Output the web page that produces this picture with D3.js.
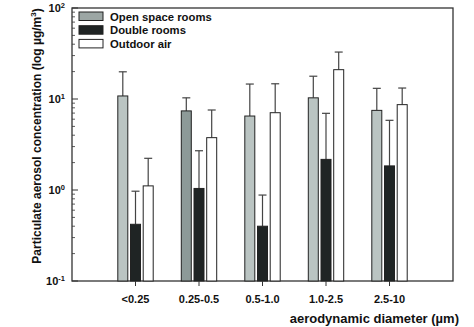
<!DOCTYPE html>
<html><head><meta charset="utf-8">
<script src="https://cdn.jsdelivr.net/npm/d3@7"></script>
<style>body{margin:0;background:#fff}svg{display:block}text{font-family:Arial,"Liberation Sans",sans-serif;font-weight:bold;fill:#111}</style>
</head><body>
<svg id="c" width="474" height="327"></svg>
<script>
const categories = ["<0.25","0.25-0.5","0.5-1.0","1.0-2.5","2.5-10"];
const seriesNames = ["Open space rooms","Double rooms","Outdoor air"];
const openSpace = [10.8, 7.4, 6.5, 10.3, 7.5];
const openSpaceErr = [19.9, 10.3, 14.6, 17.8, 13.1];
const doubleRooms = [0.42, 1.04, 0.40, 2.17, 1.84];
const doubleRoomsErr = [0.97, 2.7, 0.88, 6.96, 5.83];
const outdoor = [1.11, 3.76, 7.07, 21.0, 8.67];
const outdoorErr = [2.23, 7.57, 14.7, 32.8, 13.2];
const yTickExps = [-1, 0, 1, 2];

const svg = d3.select("#c");
const L = 72, R = 453, T = 8, B = 281;
const x = d3.scaleLinear().domain([0, 6]).range([L, R]);
const y = d3.scaleLog().domain([0.1, 100]).range([B, T]);
const colors = ["#bac4c2", "#1f2424", "#ffffff"];
const series = [
  {vals: openSpace, err: openSpaceErr},
  {vals: doubleRooms, err: doubleRoomsErr},
  {vals: outdoor, err: outdoorErr}
];
const bw = 10, step = 12.7;

// frame
svg.append("rect").attr("x", L).attr("y", T).attr("width", R - L).attr("height", B - T)
  .attr("fill", "none").attr("stroke", "#333").attr("stroke-width", 1.3);

// y minor/major ticks (inside)
const minor = [];
for (let e = -1; e < 2; e++) for (let k = 2; k <= 9; k++) minor.push(k * Math.pow(10, e));
svg.selectAll(".mt").data(minor).enter().append("line")
  .attr("x1", L).attr("x2", L + 3).attr("y1", d => y(d)).attr("y2", d => y(d))
  .attr("stroke", "#333").attr("stroke-width", 0.8);
svg.selectAll(".Mt").data(yTickExps).enter().append("line")
  .attr("x1", L).attr("x2", L + 6).attr("y1", d => y(Math.pow(10, d))).attr("y2", d => y(Math.pow(10, d)))
  .attr("stroke", "#333").attr("stroke-width", 1);
const yl = svg.selectAll(".yl").data(yTickExps).enter().append("text")
  .attr("x", L - 7).attr("y", d => y(Math.pow(10, d)) + 4).attr("text-anchor", "end")
  .attr("font-size", 11);
yl.append("tspan").text("10");
yl.append("tspan").attr("dy", -4).attr("font-size", 7.5).text(d => d);

// bars
series.forEach((s, si) => {
  categories.forEach((c, i) => {
    const cx = x(i + 1) + (si - 1) * step;
    const fill = (si === 0 && i === 1) ? "#8d9a98" : colors[si];
    svg.append("line").attr("x1", cx).attr("x2", cx).attr("y1", y(s.vals[i])).attr("y2", y(s.err[i]))
      .attr("stroke", "#444").attr("stroke-width", 1.2);
    svg.append("line").attr("x1", cx - 4).attr("x2", cx + 4).attr("y1", y(s.err[i])).attr("y2", y(s.err[i]))
      .attr("stroke", "#444").attr("stroke-width", 1.2);
    svg.append("rect").attr("x", cx - bw / 2).attr("y", y(s.vals[i]))
      .attr("width", bw).attr("height", B - y(s.vals[i]))
      .attr("fill", fill).attr("stroke", "#222").attr("stroke-width", 1);
  });
});

// x ticks and labels
categories.forEach((c, i) => {
  svg.append("line").attr("x1", x(i + 1)).attr("x2", x(i + 1)).attr("y1", B).attr("y2", B + 5)
    .attr("stroke", "#333").attr("stroke-width", 1);
  svg.append("text").attr("x", x(i + 1)).attr("y", 303).attr("text-anchor", "middle")
    .attr("font-size", 11).text(c);
});

// axis titles
svg.append("text").attr("x", 459).attr("y", 323).attr("text-anchor", "end").attr("font-size", 13)
  .text("aerodynamic diameter (µm)");
const yt = svg.append("text").attr("transform", "translate(41,136) rotate(-90)")
  .attr("text-anchor", "middle").attr("font-size", 12);
yt.append("tspan").text("Particulate aerosol concentration (log µg/m");
yt.append("tspan").attr("dy", -5).attr("font-size", 8).text("3");
yt.append("tspan").attr("dy", 5).text(")");

// legend
seriesNames.forEach((n, i) => {
  const ly = 12 + i * 13.7;
  svg.append("rect").attr("x", 79).attr("y", ly).attr("width", 24).attr("height", 8.5)
    .attr("fill", i === 0 ? "#9ca6a4" : colors[i]).attr("stroke", "#222").attr("stroke-width", 1);
  svg.append("text").attr("x", 110).attr("y", ly + 8.5).attr("font-size", 11.3).text(n);
});
</script>
</body></html>
